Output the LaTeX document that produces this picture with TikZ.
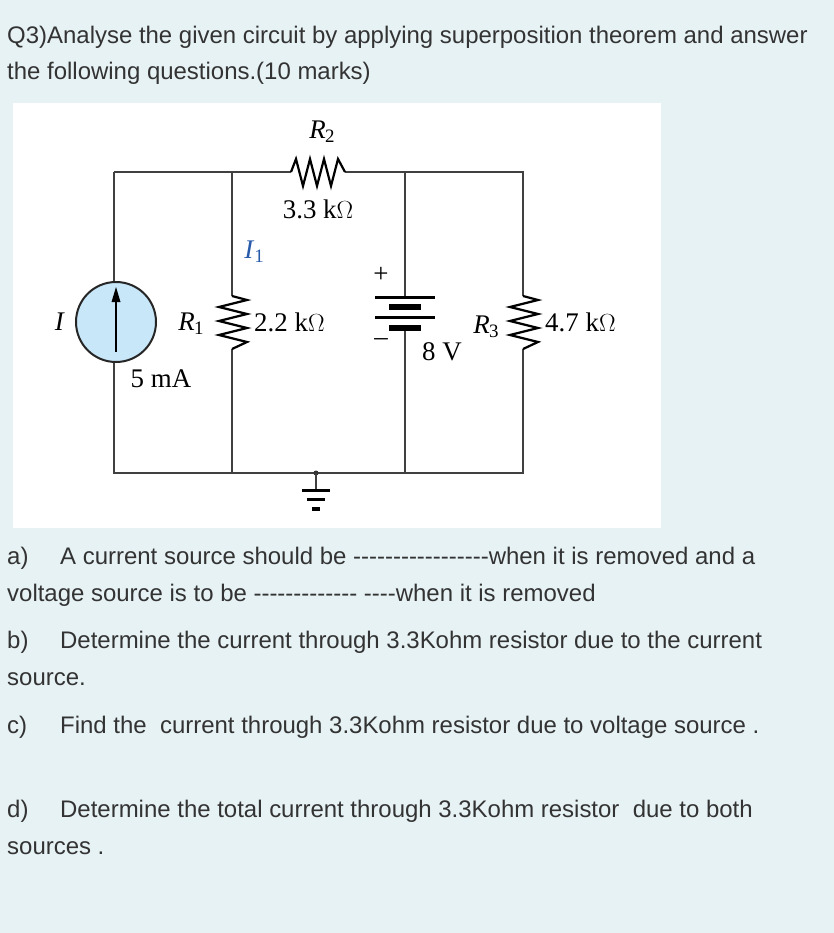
\documentclass[tikz,border=0pt]{standalone}
\usepackage{fontspec}
\newfontfamily\arial{Liberation Sans}
\newfontfamily\ser{Liberation Serif}
\newcommand\lbl[1]{\makebox[53bp][l]{#1}}
\begin{document}
\begin{tikzpicture}[x=1bp,y=-1bp,
  txt/.style={anchor=west,inner sep=0,text=black!80,font=\arial\fontsize{24.05}{28}\selectfont},
  ctxt/.style={inner sep=0,font=\ser\fontsize{27}{30}\selectfont},
  wire/.style={line width=1.1bp,black!75},
  zz/.style={line width=2.2bp,black,line join=miter}]
\useasboundingbox (0,0) rectangle (834,933);
\fill[fill={rgb,255:red,231;green,242;blue,245}] (0,0) rectangle (834,933);
\fill[white] (13,103) rectangle (661,528);
% texts
\node[txt] (t1) at (7,37) {Q3)Analyse the given circuit by applying superposition theorem and answer};
\node[txt] (t2) at (7,73) {the following questions.(10 marks)};
\node[txt] (t3) at (7,558) {\lbl{a)}A current source should be -----------------when it is removed and a};
\node[txt] (t4) at (7,595) {voltage source is to be ------------- ----when it is removed};
\node[txt] (t5) at (7,642) {\lbl{b)}Determine the current through 3.3Kohm resistor due to the current};
\node[txt] (t6) at (7,679) {source.};
\node[txt] (t7) at (7,727) {\lbl{c)}Find the\ \ current through 3.3Kohm resistor due to voltage source .};
\node[txt] (t8) at (7,811) {\lbl{d)}Determine the total current through 3.3Kohm resistor\ \ due to both};
\node[txt] (t9) at (7,848) {sources .};
% coordinates
\coordinate (TL) at (114,172); \coordinate (BL) at (114,473);
\coordinate (T1) at (232,172); \coordinate (B1) at (232,473);
\coordinate (T2) at (405,172); \coordinate (B2) at (405,473);
\coordinate (TR) at (523,172); \coordinate (BR) at (523,473);
\coordinate (G) at (316,473);
% wires
\draw[wire] (TL) -- (291,172);
\draw[wire] (345,172) -- (TR) -- (BR) -- (BL) -- (TL);
\draw[zz] (291,172) -- (296,159) -- (303,186) -- (310,159) -- (317,186) -- (324,159) -- (331,186) -- (338,159) -- (345,172);
\draw[wire] (T1) -- (232,296); \draw[wire] (232,349) -- (B1);
\draw[zz] (232,296) -- (247,300) -- (219,307) -- (247,314) -- (219,321) -- (247,328) -- (219,335) -- (247,342) -- (232,349);
\draw[wire,white,line width=4bp] (523,296) -- (523,349);
\draw[zz] (523,296) -- (538,300) -- (510,307) -- (538,314) -- (510,321) -- (538,328) -- (510,335) -- (538,342) -- (523,349);
\draw[wire] (T2) -- (405,297); \draw[wire] (405,328) -- (B2);
\fill[black] (375,295.5) rectangle (435,298.5);
\fill[black] (389,304) rectangle (421,310);
\fill[black] (375,315.5) rectangle (435,318.5);
\fill[black] (389,325) rectangle (421,331);
% current source
\draw[wire,white,line width=4bp] (114,285) -- (114,359);
\node[circle,draw=black!85,line width=2bp,fill={rgb,255:red,200;green,232;blue,250},minimum size=80bp,inner sep=0] (CS) at (116,322) {};
\draw[line width=1.1bp] (116,352) -- (116,300);
\fill[black] (116,287) -- (111.5,302) -- (120.5,302) -- cycle;
% ground
\fill[black!80] (G) circle (2.5bp);
\draw[wire] (G) -- (316,490);
\fill[black] (302,489) rectangle (330,492);
\fill[black] (307,498) rectangle (325,501);
\fill[black] (312,507) rectangle (320,511);
% labels
\node[ctxt] (lR2) at (322,132) {\textit{R}\kern-0.5pt{\fontsize{19}{19}\selectfont\raisebox{-4pt}{2}}};
\node[ctxt] (v2) at (318,209) {3.3 k$\Omega$};
\node[ctxt,text={rgb,255:red,40;green,90;blue,170}] (lI1) at (254,252) {\textit{I}{\fontsize{19}{19}\selectfont\raisebox{-4pt}{1}}};
\node[ctxt] (lR1) at (191,324) {\textit{R}\kern-0.5pt{\fontsize{19}{19}\selectfont\raisebox{-4pt}{1}}};
\node[ctxt,anchor=west] (v1) at (254,322) {2.2 k$\Omega$};
\node[ctxt] (lR3) at (486,327) {\textit{R}\kern-0.5pt{\fontsize{19}{19}\selectfont\raisebox{-4pt}{3}}};
\node[ctxt,anchor=west] (v3) at (545,322) {4.7 k$\Omega$};
\node[ctxt] (lI) at (60,322) {\textit{I}};
\node[ctxt] (vI) at (161,379) {5 mA};
\node[ctxt] (vV) at (442,352) {8 V};
\node[ctxt] (pl) at (381,275) {+};
\node[ctxt] (mi) at (381,342) {\textendash};
\end{tikzpicture}
\end{document}
